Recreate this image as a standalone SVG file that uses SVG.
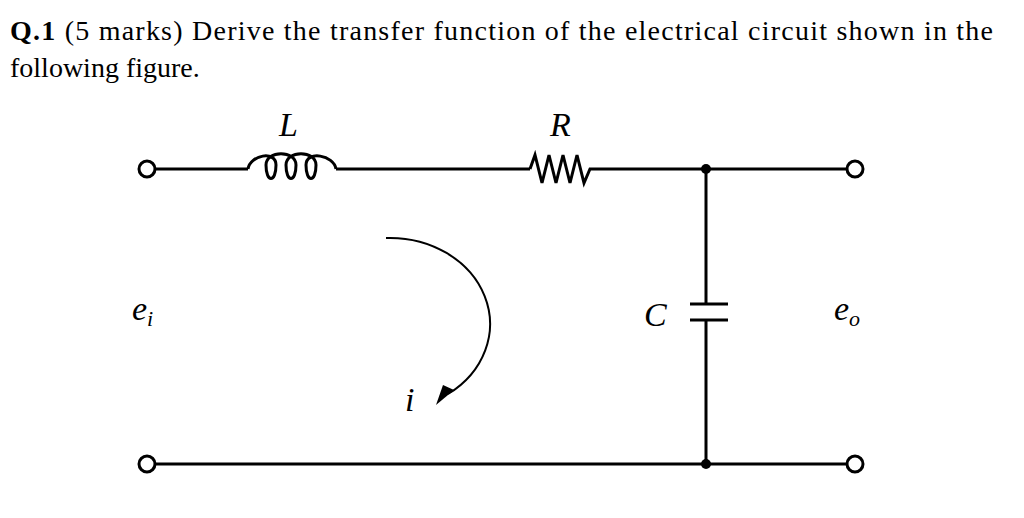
<svg xmlns="http://www.w3.org/2000/svg" width="1024" height="518" viewBox="0 0 1024 518">
<style>
.w{stroke:#000;stroke-width:3;fill:none}
.t{font-family:"Liberation Serif",serif;font-size:28px;fill:#000}
.l{font-family:"Liberation Serif",serif;font-style:italic;font-size:34px;fill:#000}
</style>
<rect width="1024" height="518" fill="#fff"/>
<text class="t" x="10" y="40" textLength="983" lengthAdjust="spacing"><tspan font-weight="bold">Q.1</tspan> (5 marks) Derive the transfer function of the electrical circuit shown in the</text>
<text class="t" x="10" y="77">following figure.</text>
<g id="connectors">
<path class="w" d="M155,169 H248 M336,169 H530 M598,169 H847 M155,464 H847 M706,169 V304 M706,320 V464"/>
<path class="w" d="M248,169 C250,155 276,150 276,165 C276,183 266,183 266,165 C266,150 296,150 296,165 C296,183 286,183 286,165 C286,150 316,150 316,165 C316,183 306,183 306,165 C306,150 334,155 336,169"/>
<path class="w" d="M530,169 L535,155 L542,183 L549,155 L556,183 L563,155 L570,183 L577,155 L584,183 L590,169 H598"/>
<path d="M386,238 A100,86 0 0 1 448,394" stroke="#000" stroke-width="2" fill="none"/>
<path d="M454,390 L436,405 L443,385 Z" fill="#000"/>
</g>
<g id="terminals">
<circle class="w" cx="147" cy="169" r="8" fill="#fff"/>
<circle class="w" cx="855" cy="169" r="8" fill="#fff"/>
<circle class="w" cx="147" cy="464" r="8" fill="#fff"/>
<circle class="w" cx="855" cy="464" r="8" fill="#fff"/>
<circle cx="706" cy="169" r="5" fill="#000"/>
<circle cx="706" cy="464" r="5" fill="#000"/>
</g>
<g id="capacitor"><path class="w" d="M690,304 H728 M690,320 H728"/></g>
<text class="l" x="279" y="136">L</text>
<text class="l" x="550" y="136">R</text>
<text class="l" x="644" y="326">C</text>
<text class="l" x="132" y="320">e<tspan font-size="22" dy="6">i</tspan></text>
<text class="l" x="834" y="320">e<tspan font-size="22" dy="6">o</tspan></text>
<text class="l" x="405" y="411">i</text>
</svg>
